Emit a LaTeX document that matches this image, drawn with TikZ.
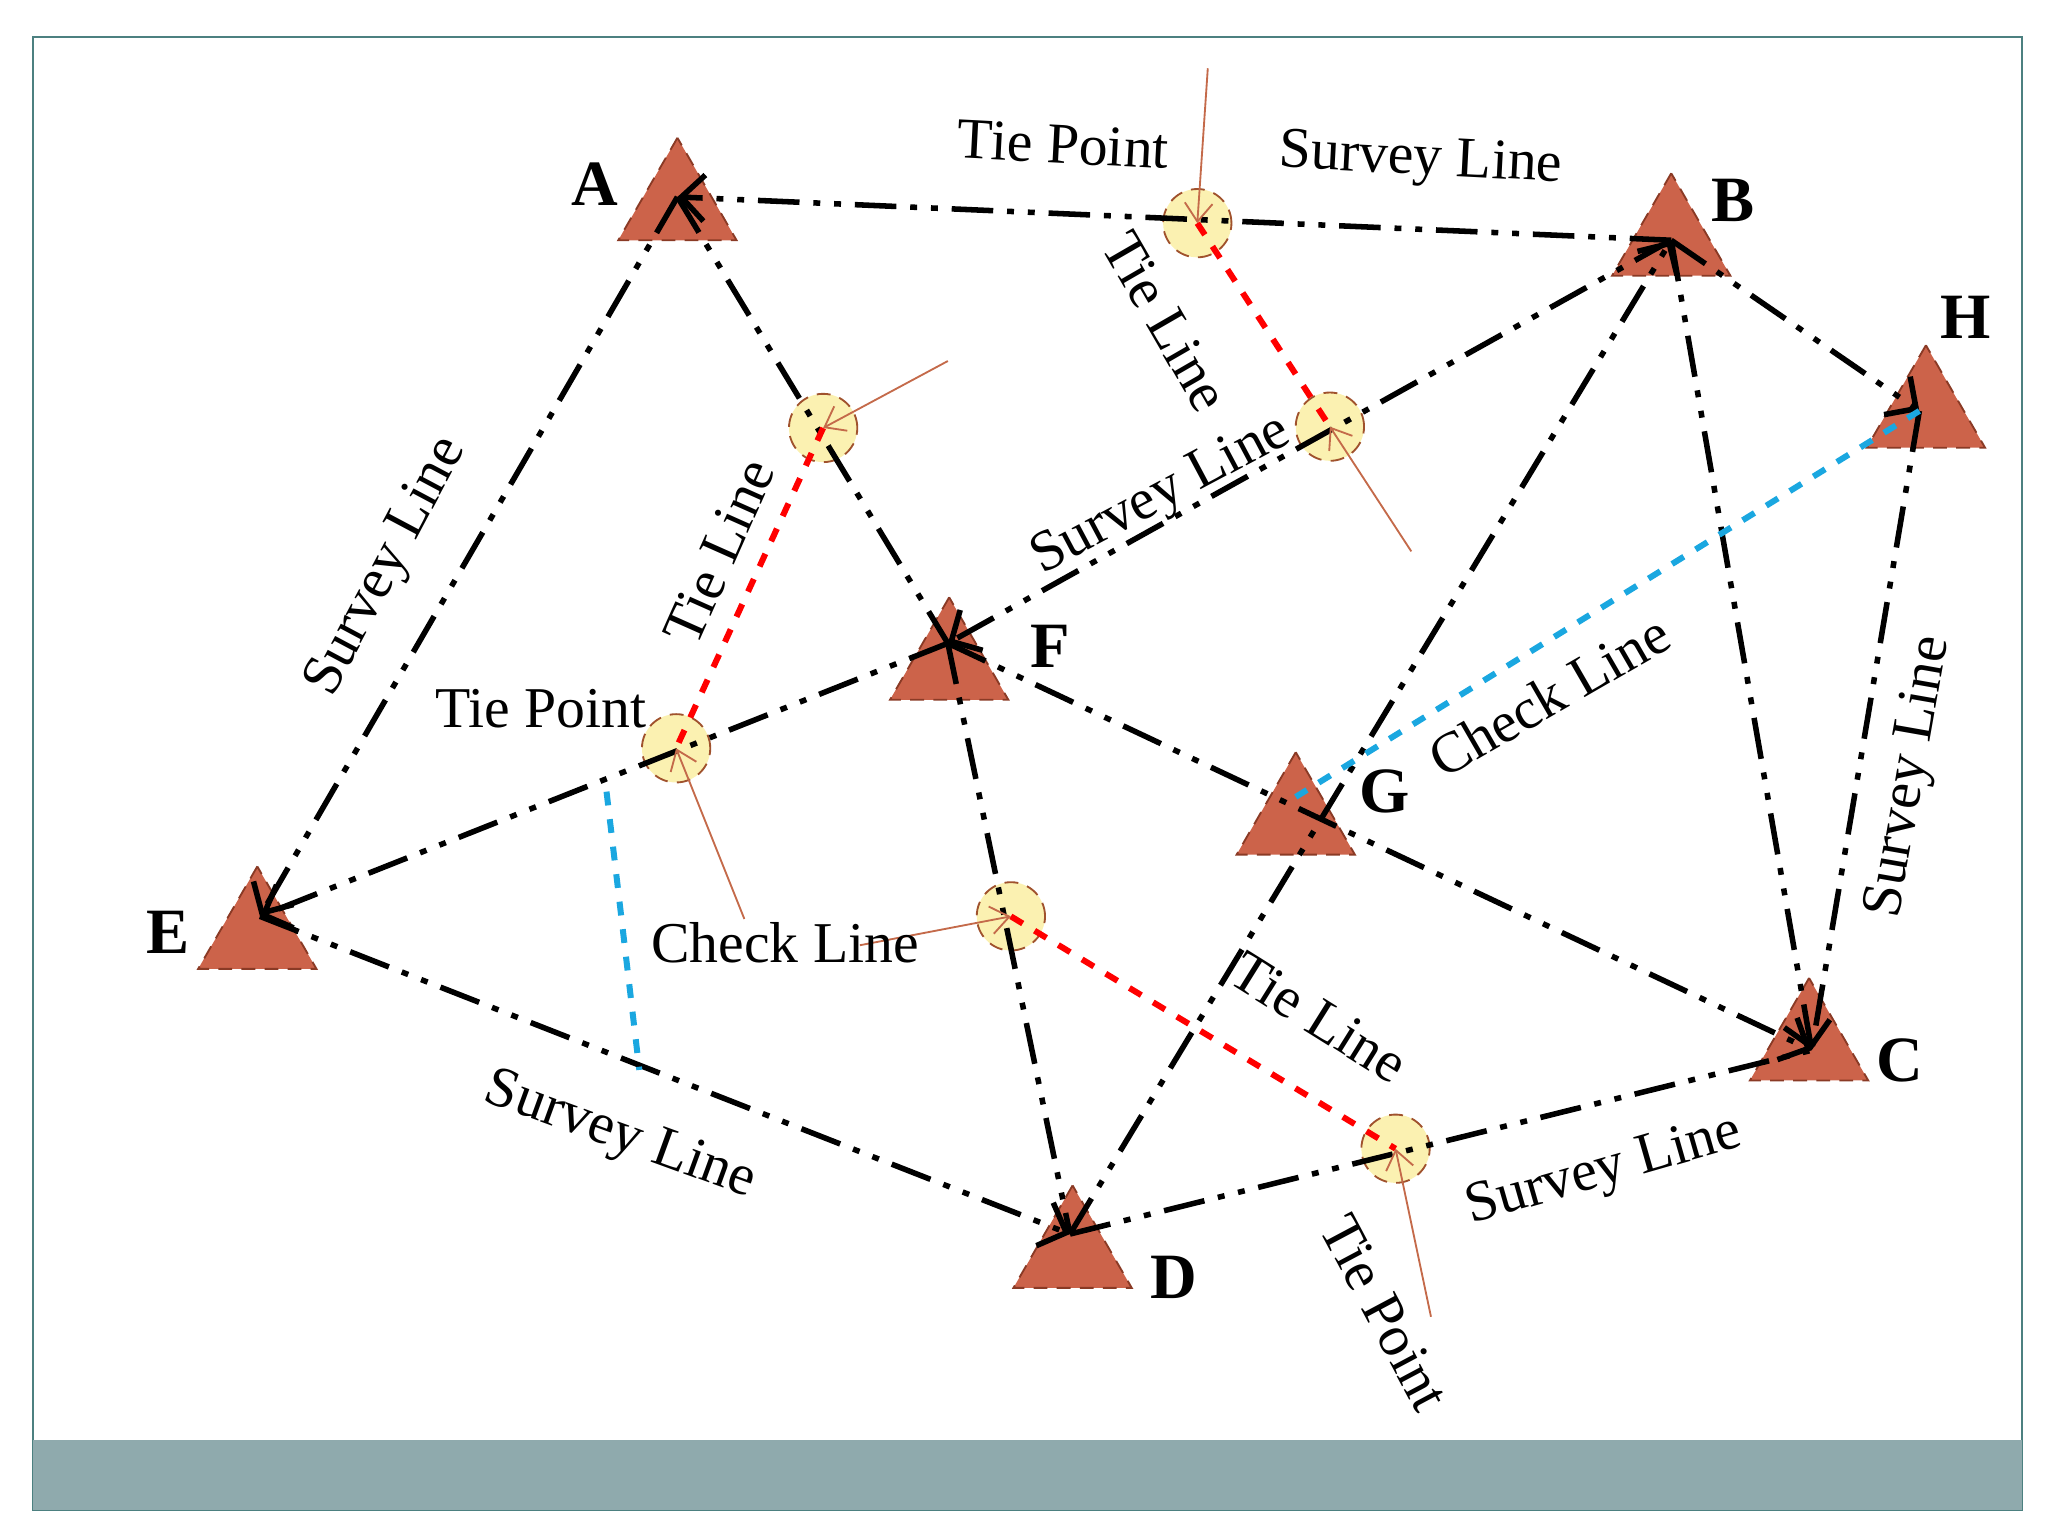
\documentclass[tikz,border=0pt]{standalone}
\usepackage{fontspec}
\setmainfont{Liberation Serif}
\usetikzlibrary{shapes.geometric,arrows.meta}
\definecolor{tri}{HTML}{CC634A}
\definecolor{trib}{HTML}{8A3A25}
\definecolor{tp}{HTML}{FBF0A8}
\definecolor{tpb}{HTML}{A0522D}
\definecolor{ptr}{HTML}{C46A4A}
\definecolor{chk}{HTML}{1AA7E0}
\definecolor{bar}{HTML}{8FAAAD}
\tikzset{
 station/.style={regular polygon,regular polygon sides=3,minimum size=1.04cm,inner sep=0pt,fill=tri,draw=trib,densely dashed,thin},
 slabel/.style={font=\fontsize{14}{14}\selectfont\bfseries},
 survey/.style={line width=1.2pt,dash pattern=on 9pt off 3pt on 1.5pt off 3pt on 1.5pt off 3pt},
 arr/.style={-{Straight Barb[length=5pt,width=10pt,line width=1.2pt]}},
 tiept/.style={circle,minimum size=0.52cm,inner sep=0pt,fill=tp,fill opacity=0.9,draw=tpb,densely dashed,thin},
 tieline/.style={red,dashed,line width=1.3pt},
 checkline/.style={chk,dashed,line width=1.3pt},
 pointer/.style={ptr,thin,-{Straight Barb[length=4pt,width=6pt]}},
 txt/.style={font=\fontsize{12.5}{12.5}\selectfont,inner sep=1pt}
}
\begin{document}
\begin{tikzpicture}[x=0.01cm,y=-0.01cm]
\useasboundingbox (0,0) rectangle (1560,1170);
\draw[gray!60!teal,thin] (25,28) rectangle (1540,1150);
\fill[bar] (25,1097) rectangle (1540,1150);
% stations
\node[station] (A) at (516,157) {};
\node[station] (B) at (1273,184) {};
\node[station] (H) at (1467,315) {};
\node[station] (F) at (723,507) {};
\node[station] (G) at (987,625) {};
\node[station] (E) at (196,712) {};
\node[station] (C) at (1378,797) {};
\node[station] (D) at (817,955) {};
\node[slabel] (lA) at (453,140) {A};
\node[slabel] (lB) at (1320,153) {B};
\node[slabel] (lH) at (1497,242) {H};
\node[slabel] (lF) at (800,492) {F};
\node[slabel] (lG) at (1055,603) {G};
\node[slabel] (lE) at (128,710) {E};
\node[slabel] (lC) at (1447,808) {C};
\node[slabel] (lD) at (894,973) {D};
% endpoints
\coordinate (pA) at (516,150);
\coordinate (pB) at (1273,183);
\coordinate (pH) at (1462,313);
\coordinate (pF) at (722,490);
\coordinate (pG) at (987,607);
\coordinate (pE) at (198,698);
\coordinate (pC) at (1380,800);
\coordinate (pD) at (815,940);
% tie points
\node[tiept] (t1) at (912,170) {};
\node[tiept] (t2) at (1013,325) {};
\node[tiept] (t3) at (627,326) {};
\node[tiept] (t4) at (515,570) {};
\node[tiept] (t5) at (770,698) {};
\node[tiept] (t6) at (1063,875) {};
% survey lines
\draw[survey,arr] (pB) -- (pA);
\draw[survey,arr] (pA) -- (pE);
\draw[survey] (pA) -- (pF);
\draw[survey,arr] (pB) -- (pH);
\draw[survey,arr] (pB) -- (pF);
\draw[survey,arr] (pF) -- (pE);
\draw[survey,arr] (pF) -- (pC);
\draw[survey,arr] (pE) -- (pD);
\draw[survey] (pD) -- (pC);
\draw[survey,arr] (pD) -- (pB);
\draw[survey,arr] (pB) -- (pC);
\draw[survey] (pH) -- (pC);
\draw[survey] (pF) -- (pD);
% tie & check lines
\draw[tieline] (t1.center) -- (t2.center);
\draw[tieline] (t3.center) -- (t4.center);
\draw[tieline] (t5.center) -- (t6.center);
\coordinate (c1) at (462,603);
\coordinate (c2) at (487,815);
\draw[checkline] (pH) -- (pG);
\draw[checkline] (c1) -- (c2);
% pointers
\coordinate (q1) at (920,52);
\coordinate (q2) at (722,275);
\coordinate (q3) at (1075,420);
\coordinate (q4) at (567,700);
\coordinate (q5) at (655,720);
\coordinate (q6) at (1090,1003);
\draw[pointer] (q1) -- (t1.center);
\draw[pointer] (q2) -- (t3.center);
\draw[pointer] (q3) -- (t2.center);
\draw[pointer] (q4) -- (t4.center);
\draw[pointer] (q5) -- (t5.center);
\draw[pointer] (q6) -- (t6.center);
% texts
\node[txt,rotate=-3] (x1) at (810,110) {Tie Point};
\node[txt,rotate=-3] (x2) at (1082,123) {Survey Line};
\node[txt,rotate=-60] (x3) at (888,245) {Tie Line};
\node[txt,rotate=28] (x4) at (885,378) {Survey Line};
\node[txt,rotate=66] (x5) at (548,420) {Tie Line};
\node[txt,rotate=62] (x6) at (295,432) {Survey Line};
\node[txt] (x7) at (412,540) {Tie Point};
\node[txt] (x8) at (598,718) {Check Line};
\node[txt,rotate=30] (x9) at (1180,530) {Check Line};
\node[txt,rotate=80] (x10) at (1455,592) {Survey Line};
\node[txt,rotate=-32] (x11) at (1005,775) {Tie Line};
\node[txt,rotate=-20] (x12) at (472,866) {Survey Line};
\node[txt,rotate=16] (x13) at (1222,893) {Survey Line};
\node[txt,rotate=-62] (x14) at (1055,1000) {Tie Point};
\end{tikzpicture}
\end{document}
